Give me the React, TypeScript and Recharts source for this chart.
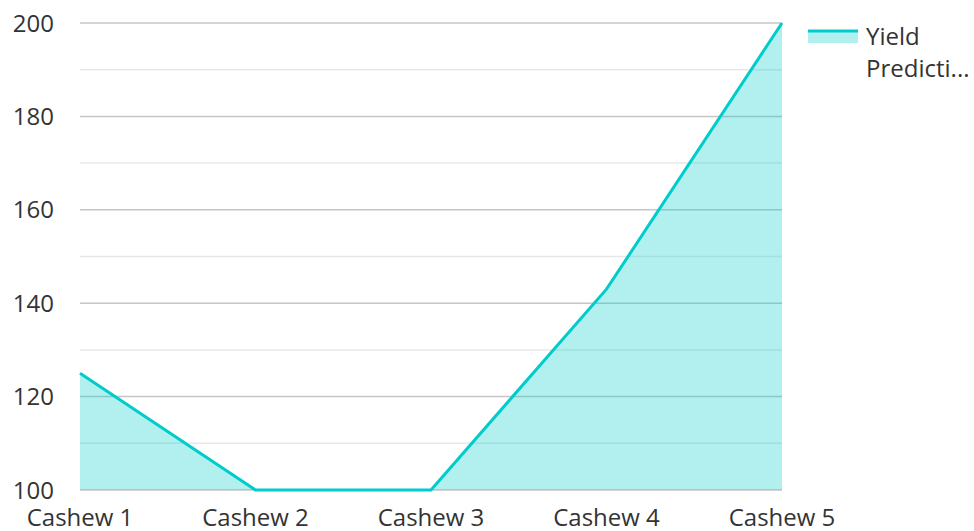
import React from "react";
import {
  AreaChart,
  Area,
  XAxis,
  YAxis,
  CartesianGrid,
  Legend,
} from "recharts";

const categories = ["Cashew 1", "Cashew 2", "Cashew 3", "Cashew 4", "Cashew 5"];
const yieldPrediction = [125, 100, 100, 143, 200];
const majorTicks = [100, 120, 140, 160, 180, 200];
const minorTicks = [110, 130, 150, 170, 190];

const SERIES_NAME = "Yield Prediction";
const LINE = "#00CCCC";
const FONT = "'Open Sans', 'Noto Sans', sans-serif";

const data = categories.map((name, i) => ({ name, value: yieldPrediction[i] }));

function LegendBox() {
  return (
    <div style={{ display: "flex", alignItems: "flex-start", fontFamily: FONT }}>
      <svg width={50} height={24} style={{ marginTop: 8, flexShrink: 0 }} aria-hidden="true">
        <rect x={0} y={3} width={50} height={12} fill={LINE} fillOpacity={0.3} />
        <line x1={0} x2={50} y1={3} y2={3} stroke={LINE} strokeWidth={3} />
      </svg>
      <div
        style={{
          marginLeft: 8,
          width: 108,
          fontSize: 24,
          lineHeight: "32px",
          color: "#333333",
          whiteSpace: "nowrap",
        }}
      >
        <div>Yield</div>
        <div>Predicti...</div>
      </div>
    </div>
  );
}

export default function App() {
  return (
    <div style={{ position: "absolute", left: 0, top: 0, background: "#fff" }}>
      <AreaChart
        width={974}
        height={531}
        data={data}
        margin={{ top: 23, right: 26, left: 0, bottom: 0 }}
      >
        <CartesianGrid
          vertical={false}
          horizontalValues={minorTicks}
          stroke="#e8e8e8"
          strokeWidth={1.5}
        />
        <CartesianGrid
          vertical={false}
          horizontalValues={majorTicks}
          stroke="#c6c6c6"
          strokeWidth={1.5}
        />
        <XAxis
          dataKey="name"
          axisLine={false}
          tickLine={false}
          tickSize={0}
          tickMargin={19}
          height={41}
          interval={0}
          tick={{ fill: "#333333", fontSize: 24, fontFamily: FONT }}
        />
        <YAxis
          domain={[100, 200]}
          ticks={majorTicks}
          axisLine={false}
          tickLine={false}
          tickSize={0}
          tickMargin={26}
          width={80}
          tick={{ fill: "#333333", fontSize: 24, fontFamily: FONT }}
        />
        <Legend
          layout="vertical"
          align="right"
          verticalAlign="top"
          wrapperStyle={{ top: 20, right: 0, width: 166 }}
          content={() => <LegendBox />}
        />
        <Area
          type="linear"
          dataKey="value"
          name={SERIES_NAME}
          stroke={LINE}
          strokeWidth={3}
          fill={LINE}
          fillOpacity={0.3}
          dot={false}
          activeDot={false}
          isAnimationActive={false}
        />
      </AreaChart>
    </div>
  );
}
